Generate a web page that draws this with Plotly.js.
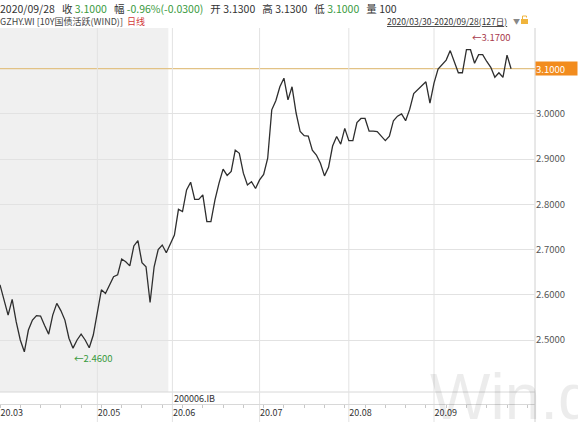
<!DOCTYPE html>
<html><head><meta charset="utf-8">
<script src="https://cdn.plot.ly/plotly-3.0.1.min.js"></script>
<style>html,body{margin:0;padding:0;background:#fff;}#chart{width:578px;height:422px;}</style>
</head><body><div id="chart"></div>
<script>
// ---- data ----
const closeValues = [
 2.622,2.585,2.555,2.590,2.540,2.500,2.474,2.522,2.544,2.554,
 2.553,2.532,2.513,2.555,2.581,2.565,2.544,2.504,2.482,2.500,
 2.513,2.500,2.483,2.511,2.560,2.611,2.603,2.622,2.640,2.644,
 2.679,2.673,2.664,2.708,2.720,2.671,2.662,2.583,2.662,2.700,
 2.710,2.693,2.712,2.732,2.789,2.784,2.832,2.849,2.811,2.811,
 2.821,2.762,2.762,2.810,2.847,2.878,2.864,2.873,2.920,2.913,
 2.869,2.843,2.850,2.835,2.854,2.866,2.902,3.009,3.029,3.060,
 3.079,3.031,3.060,3.002,2.961,2.952,2.951,2.920,2.909,2.891,
 2.863,2.882,2.929,2.950,2.933,2.968,2.941,2.941,2.981,2.990,
 2.990,2.962,2.962,2.961,2.951,2.941,2.951,2.985,2.995,3.000,
 2.985,3.010,3.045,3.053,3.063,3.071,3.024,3.068,3.099,3.110,
 3.119,3.140,3.116,3.091,3.091,3.142,3.142,3.112,3.131,3.131,
 3.116,3.103,3.081,3.091,3.081,3.130,3.100
];
const monthTickPos = [0, 24, 42.5, 64, 86, 107];
const monthTickText = ['20.03','20.05','20.06','20.07','20.08','20.09'];
const yTickVals = [2.5, 2.6, 2.7, 2.8, 2.9, 3.0];
const yTickText = ['2.5000','2.6000','2.7000','2.8000','2.9000','3.0000'];
const lastClose = 3.1;
const lastCloseText = '3.1000';
const periodHigh = 3.17, periodHighIdx = 116;
const periodLow = 2.46, periodLowIdx = 18;
const shadedEndIdx = 41.5;
const quoteDate = '2020/09/28';
const quoteItems = [
 ['收', '3.1000', 'green'], ['幅', '-0.96%(-0.0300)', 'green'],
 ['开', '3.1300', '#333'], ['高', '3.1300', '#333'],
 ['低', '3.1000', 'green'], ['量', '100', '#333']
];
const codeText = 'GZHY.WI [10Y国债活跃(WIND)]';
const freqText = '日线';
const rangeText = '2020/03/30-2020/09/28(127日)';
const contractText = '200006.IB';

// ---- layout helpers ----
const W = 578, H = 422, PR = 43, PT = 28;
const PW = W - PR, PH = H - PT;
const px = x => x / PW;
const py = y => (H - y) / PH;
const GREEN = '#3a9a3e';
const FONT = '"Noto Sans CJK SC", "Noto Sans", sans-serif';
const NB = '\u00a0';

const xIdx = closeValues.map((_, i) => i);

const trace = {
  x: xIdx, y: closeValues, type: 'scatter', mode: 'lines',
  line: {color: '#2e2e2e', width: 1.3}, hoverinfo: 'skip'
};

const headerText = quoteDate + NB + NB + NB + quoteItems.map(([k, v, c]) =>
  k + NB + `<span style="color:${c === 'green' ? GREEN : c}">${v}</span>`).join(NB + NB + NB);

const annotations = [];
annotations.push({text: headerText, xref: 'paper', yref: 'paper', x: px(-1), y: py(8),
  xanchor: 'left', yanchor: 'middle', showarrow: false, borderpad: 0,
  font: {family: FONT, size: 10.5, color: '#333'}});
annotations.push({text: codeText + NB + NB + `<span style="color:#d23a3a">${freqText}</span>`,
  xref: 'paper', yref: 'paper', x: px(-1), y: py(21),
  xanchor: 'left', yanchor: 'middle', showarrow: false, borderpad: 0,
  font: {family: FONT, size: 9, color: '#444'}});
annotations.push({text: rangeText, xref: 'paper', yref: 'paper', x: px(386), y: py(21),
  xanchor: 'left', yanchor: 'middle', showarrow: false, borderpad: 0,
  font: {family: FONT, size: 8.5, color: '#333', lineposition: 'under'}});
annotations.push({text: '▼', xref: 'paper', yref: 'paper', x: px(512), y: py(21),
  xanchor: 'left', yanchor: 'middle', showarrow: false, borderpad: 0,
  font: {family: FONT, size: 7, color: '#888'}});
// high / low markers
annotations.push({text: '←' + periodHigh.toFixed(4), xref: 'x', yref: 'y',
  x: periodHighIdx, y: periodHigh, xanchor: 'left', yanchor: 'middle', showarrow: false,
  borderpad: 0, font: {family: FONT, size: 9.5, color: '#a83a4c'}});
annotations.push({text: '←' + periodLow.toFixed(4), xref: 'x', yref: 'y',
  x: periodLowIdx, y: periodLow, xanchor: 'left', yanchor: 'middle', showarrow: false,
  borderpad: 0, font: {family: FONT, size: 9.5, color: GREEN}});
// last value label
annotations.push({text: lastCloseText, xref: 'paper', yref: 'y', x: 1, y: lastClose,
  xanchor: 'left', yanchor: 'middle', showarrow: false, bgcolor: '#f28c1e',
  width: 41, height: 13, align: 'left', borderpad: 0,
  font: {family: FONT, size: 9.5, color: '#fff'}});
annotations.push({text: contractText, xref: 'paper', yref: 'paper', x: px(173), y: py(398),
  xanchor: 'left', yanchor: 'middle', showarrow: false, borderpad: 0,
  font: {family: FONT, size: 9, color: '#333'}});
// watermark
annotations.push({text: 'Win.d', xref: 'paper', yref: 'paper', x: px(429), y: py(434),
  xanchor: 'left', yanchor: 'bottom', showarrow: false, borderpad: 0,
  font: {family: '"Liberation Sans", sans-serif', size: 64, color: 'rgba(0,0,0,0.075)'}});

const shapes = [
  {type: 'rect', xref: 'x', yref: 'paper', x0: -2, x1: shadedEndIdx, y0: py(392), y1: 1,
   fillcolor: '#f0f0f0', line: {width: 0}, layer: 'below'},
  {type: 'line', xref: 'paper', yref: 'paper', x0: 0, x1: 1, y0: py(392), y1: py(392),
   line: {color: '#d8d8d8', width: 1}, layer: 'below'},
  {type: 'line', xref: 'paper', yref: 'paper', x0: 1, x1: 1, y0: 0, y1: 1,
   line: {color: '#d0d0d0', width: 1}, layer: 'below'},
  {type: 'line', xref: 'paper', yref: 'y', x0: 0, x1: 1, y0: lastClose, y1: lastClose,
   line: {color: '#e2c285', width: 1.2}, layer: 'below'},
  // lock icon
  {type: 'rect', xref: 'paper', yref: 'paper', x0: px(521), x1: px(528), y0: py(24), y1: py(19),
   fillcolor: '#f0b43c', line: {width: 0}},
  {type: 'path', xref: 'paper', yref: 'paper',
   path: `M ${px(522.5)} ${py(19)} L ${px(522.5)} ${py(16)} L ${px(526.5)} ${py(16)} L ${px(526.5)} ${py(17.5)}`,
   line: {color: '#f0b43c', width: 1}}
];
monthTickPos.slice(1).forEach(v => shapes.push({
  type: 'line', xref: 'x', yref: 'paper', x0: v, x1: v, y0: 0, y1: 1,
  line: {color: '#e2e2e2', width: 1}, layer: 'below'}));

const layout = {
  width: W, height: H,
  margin: {l: 0, r: PR, t: PT, b: 0, pad: 0},
  paper_bgcolor: '#fff', plot_bgcolor: 'rgba(0,0,0,0)',
  showlegend: false,
  font: {family: FONT},
  xaxis: {
    range: [0, 131.9], anchor: 'free', position: py(404),
    showline: true, linecolor: '#d8d8d8', linewidth: 1,
    showgrid: false, zeroline: false,
    tickmode: 'array', tickvals: monthTickPos, ticktext: monthTickText,
    ticks: '', ticklabelposition: 'outside right',
    tickfont: {family: FONT, size: 9, color: '#333'},
    minor: {ticks: 'outside', ticklen: 3, tickcolor: '#c8c8c8', dtick: 5, tick0: 0, showgrid: false}
  },
  yaxis: {
    domain: [py(392), 1], range: [2.385, 3.19], side: 'right',
    tickmode: 'array', tickvals: yTickVals, ticktext: yTickText,
    showgrid: true, gridcolor: '#e2e2e2', zeroline: false, showline: false,
    ticks: '', tickfont: {family: FONT, size: 9.5, color: '#555'}
  },
  annotations: annotations,
  shapes: shapes
};

Plotly.newPlot('chart', [trace], layout, {staticPlot: true, displayModeBar: false});
</script></body></html>
